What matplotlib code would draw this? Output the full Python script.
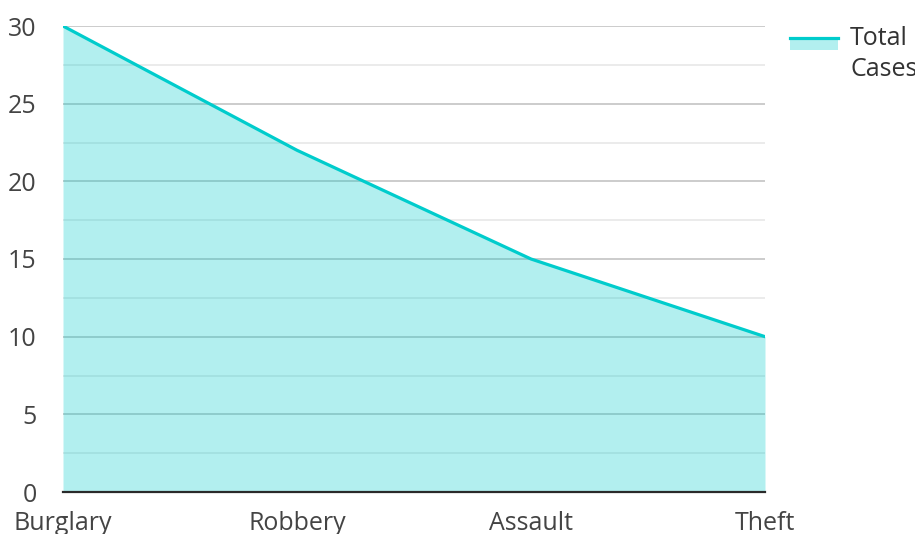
import matplotlib.pyplot as plt
from matplotlib.ticker import MultipleLocator
from matplotlib.patches import Rectangle
from matplotlib.lines import Line2D

# Chart data
categories = ['Burglary', 'Robbery', 'Assault', 'Theft']
total_cases = [30, 22, 15, 10]
series_name = 'Total\nCases'

LINE_COLOR = '#00cccc'
TEXT_COLOR = '#444444'
W, H = 915, 534

plt.rcParams['font.family'] = ['Open Sans', 'DejaVu Sans']

fig = plt.figure(figsize=(W / 100, H / 100), dpi=100)
ax = fig.add_axes([63 / W, 1 - 492 / H, (765 - 63) / W, (492 - 26) / H])

x = list(range(len(categories)))
ax.fill_between(x, total_cases, 0, color=LINE_COLOR, alpha=0.3, linewidth=0, zorder=2)
ax.plot(x, total_cases, color=LINE_COLOR, linewidth=2.3, zorder=3)

ax.set_xlim(0, len(categories) - 1)
ax.set_ylim(0, 30)
ax.yaxis.set_major_locator(MultipleLocator(5))
ax.yaxis.set_minor_locator(MultipleLocator(2.5))
ax.grid(which='major', axis='y', color='#c4c4c4', linewidth=1.2, zorder=1)
ax.grid(which='minor', axis='y', color='#e8e8e8', linewidth=1.2, zorder=1)
ax.set_axisbelow(True)

ax.set_xticks(x)
ax.set_xticklabels(categories)
for side in ['top', 'right', 'left']:
    ax.spines[side].set_visible(False)
ax.spines['bottom'].set_color('#2a2a2a')
ax.spines['bottom'].set_linewidth(1.6)
ax.tick_params(axis='both', which='both', length=0, labelsize=18, labelcolor=TEXT_COLOR)
ax.tick_params(axis='x', pad=13.5)
ax.tick_params(axis='y', pad=19)

# legend drawn by hand: line on top of a light patch, two-line label
fig.add_artist(Rectangle((790 / W, 1 - 50 / H), 48 / W, 13 / H,
                         transform=fig.transFigure, facecolor=LINE_COLOR,
                         alpha=0.3, edgecolor='none'))
fig.add_artist(Line2D([790 / W, 838 / W], [1 - 37.5 / H, 1 - 37.5 / H],
                      transform=fig.transFigure, color=LINE_COLOR, linewidth=2.3))
fig.text(850 / W, 1 - 26 / H, series_name, ha='left', va='top', fontsize=18,
         color='#333333', linespacing=1.33)

fig.savefig('out.png', dpi=100)
